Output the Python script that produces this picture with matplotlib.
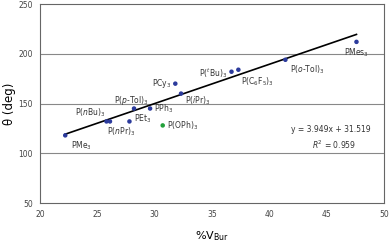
import numpy as np
import matplotlib
matplotlib.use('Agg')
import matplotlib.pyplot as plt

# data
names = ['PMe3', 'P(nBu)3', 'P(nPr)3', 'PEt3', 'P(p-Tol)3', 'PPh3', 'P(OPh)3',
         'PCy3', 'P(iPr)3', 'P(tBu)3', 'P(C6F5)3', 'P(o-Tol)3', 'PMes3']
labels = [r'PMe$_3$', r'P($n$Bu)$_3$', r'P($n$Pr)$_3$', r'PEt$_3$', r'P($p$-Tol)$_3$',
          r'PPh$_3$', r'P(OPh)$_3$', r'PCy$_3$', r'P($i$Pr)$_3$', r'P($^t$Bu)$_3$',
          r'P(C$_6$F$_5$)$_3$', r'P($o$-Tol)$_3$', r'PMes$_3$']
vbur = [22.2, 25.8, 26.1, 27.8, 28.2, 29.6, 30.7, 31.8, 32.3, 36.7, 37.3, 41.4, 47.6]
theta = [118, 132, 132, 132, 145, 145, 128, 170, 160, 182, 184, 194, 212]
colors = ['#2b3a9c'] * 13
colors[6] = '#22a03a'

slope = 3.949
icept = 31.519

# label offsets in points (dx, dy, ha, va)
offs = [(4, -3, 'left', 'top'), (-1, 2, 'right', 'bottom'), (-2, -3, 'left', 'top'),
        (3, 2, 'left', 'center'), (-2, 1, 'center', 'bottom'), (3, 0, 'left', 'center'),
        (3, 0, 'left', 'center'), (-3, 0, 'right', 'center'), (3, -1, 'left', 'top'),
        (-3, -1, 'right', 'center'), (2, -4, 'left', 'top'), (3, -3, 'left', 'top'),
        (0, -3, 'center', 'top')]

fig = plt.figure(figsize=(3.9, 2.45), dpi=100)
ax = fig.add_axes([0.1026, 0.1714, 0.882, 0.812])

for y in [100, 150, 200]:
    ax.axhline(y, color='#888888', lw=0.8, zorder=0)

xs = np.array([min(vbur), max(vbur)])
ax.plot(xs, slope * xs + icept, color='black', lw=1.2, zorder=2)
ax.scatter(vbur, theta, s=5, c=colors, zorder=3)

for x, y, lab, (dx, dy, ha, va) in zip(vbur, theta, labels, offs):
    ax.annotate(lab, (x, y), xytext=(dx, dy), textcoords='offset points',
                ha=ha, va=va, fontsize=5.5, color='#333333')

ax.text(0.96, 0.37, 'y = 3.949x + 31.519', transform=ax.transAxes,
        ha='right', va='center', fontsize=5.5, color='#333333')
ax.text(0.855, 0.295, r'$R^2$ = 0.959', transform=ax.transAxes,
        ha='center', va='center', fontsize=5.5, color='#333333')

ax.set_xlim(20, 50)
ax.set_ylim(50, 250)
ax.set_xticks([20, 25, 30, 35, 40, 45, 50])
ax.set_yticks([50, 100, 150, 200, 250])
ax.tick_params(labelsize=5.5, colors='#444444', length=0, pad=5)
for s in ax.spines.values():
    s.set_color('#666666')
    s.set_linewidth(0.8)

ax.set_xlabel(r'%V$_{\rm Bur}$', fontsize=8)
ax.set_ylabel('θ (deg)', fontsize=8.5)
ax.xaxis.set_label_coords(0.5, -0.13)
ax.yaxis.set_label_coords(-0.07, 0.5)

plt.savefig('out.png', dpi=100)
